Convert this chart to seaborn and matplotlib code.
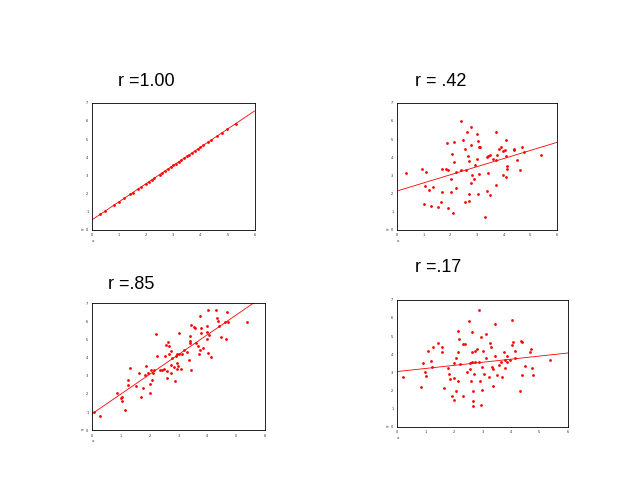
import numpy as np
import pandas as pd
import matplotlib
matplotlib.use("Agg")
import matplotlib.pyplot as plt
import seaborn as sns

# panel 1: r = 1.00
x1 = [0.3, 0.5, 0.8, 1.0, 1.2, 1.4, 1.5, 1.7, 1.8, 2.0, 2.1, 2.2, 2.3, 2.5, 2.6, 2.7, 2.8, 2.9,
      3.0, 3.1, 3.2, 3.3, 3.4, 3.5, 3.6, 3.7, 3.8, 3.9, 4.0, 4.1, 4.3, 4.4, 4.6, 4.8, 5.0, 5.3]
y1 = [0.85, 1.05, 1.35, 1.55, 1.75, 1.95, 2.05, 2.25, 2.35, 2.55, 2.65, 2.75, 2.85, 3.05, 3.15,
      3.25, 3.35, 3.45, 3.55, 3.65, 3.75, 3.85, 3.95, 4.05, 4.15, 4.25, 4.35, 4.45, 4.55, 4.65,
      4.85, 4.95, 5.15, 5.35, 5.55, 5.85]

# panel 2: r = .42
x2 = [.33, .96, 1.1, 1.04, 1.22, 1.35, 1.02, 1.29, 1.53, 1.65, 1.71, 1.68, 1.84, 1.93, 1.87, 2.14,
      2.06, 2.14, 2.02, 2.02, 1.93, 2.09, 2.2, 2.23, 2.39, 2.39, 2.49, 2.57, 2.6, 2.63, 2.67, 2.72,
      2.69, 2.72, 2.55, 2.77, 2.79, 2.82, 2.79, 2.88, 2.94, 3.0, 3.02, 3.04, 3.09, 3.06, 3.04, 3.12,
      3.31, 3.37, 3.43, 3.49, 3.4, 3.39, 3.49, 3.61, 3.73, 3.77, 3.73, 3.82, 3.89, 3.96, 3.73, 3.98,
      4.04, 4.08, 4.1, 4.14, 4.11, 4.08, 4.38, 4.38, 4.51, 4.63, 4.68, 4.75, 5.42]
y2 = [3.11, 3.38, 3.2, 2.43, 2.19, 2.37, 1.41, 1.32, 1.24, 1.55, 2.08, 3.35, 3.35, 3.3, 4.79, 4.84,
      4.2, 3.75, 2.8, 2.1, 1.19, .93, 2.32, 3.2, 3.3, 5.98, 4.94, 4.48, 3.3, 5.39, 4.06, 3.78,
      1.97, 1.59, 1.55, 5.67, 4.66, 3.02, 2.6, 2.83, 3.56, 3.93, 5.26, 4.88, 4.57, 3.07, 1.99, 4.57,
      .73, 4.02, 4.06, 4.11, 3.11, 2.16, 1.92, 3.89, 5.39, 4.15, 3.87, 4.48, 4.57, 4.33, 2.47, 3.02,
      4.38, 4.93, 4.06, 3.53, 3.35, 2.89, 4.48, 4.42, 3.84, 3.29, 4.57, 4.29, 4.11]

# panel 3: r = .85
x3 = [.06, .28, .88, 1.0, 1.06, 1.03, 1.15, 1.25, 1.27, 1.31, 1.52, 1.64, 1.7, 1.79, 1.84, 1.87,
      1.94, 2.0, 2.0, 2.04, 2.07, 2.12, 2.15, 2.21, 2.27, 2.36, 2.42, 2.51, 2.55, 2.58, 2.61, 2.61,
      2.64, 2.69, 2.68, 2.73, 2.73, 2.73, 2.77, 2.85, 2.88, 2.91, 2.94, 2.97, 3.0, 2.97, 3.04, 3.04,
      3.09, 3.12, 3.21, 3.31, 3.36, 3.39, 3.39, 3.42, 3.45, 3.45, 3.54, 3.57, 3.63, 3.69, 3.72, 3.76,
      3.74, 3.78, 3.79, 3.84, 3.98, 4.01, 4.04, 4.04, 4.08, 4.12, 4.01, 4.3, 4.33, 4.36, 4.4, 4.48,
      4.61, 4.65, 4.69, 4.72, 5.37]
y3 = [1.02, .78, 2.04, 1.76, 1.61, 1.81, 1.11, 2.78, 2.5, 3.43, 2.44, 3.15, 1.85, 2.35, 3.06, 3.56,
      3.15, 2.07, 2.56, 3.33, 2.78, 3.15, 3.33, 5.28, 4.07, 3.3, 3.33, 3.37, 4.07, 4.67, 3.24, 2.85,
      4.85, 4.63, 4.2, 4.35, 3.61, 3.15, 3.96, 3.48, 2.69, 4.07, 4.17, 3.7, 3.52, 3.37, 4.2, 5.33,
      3.37, 4.2, 4.39, 4.3, 3.85, 5.19, 4.91, 4.81, 3.33, 5.81, 5.69, 5.65, 4.81, 4.63, 4.17, 4.39,
      6.3, 5.65, 5.37, 4.54, 5.04, 5.74, 6.63, 4.26, 5.26, 4.02, 5.41, 6.61, 6.2, 6.02, 5.74, 5.13,
      5.96, 5.0, 6.48, 5.93, 5.93]

# panel 4: r = .17
x4 = [.23, .85, .92, .99, 1.01, 1.11, 1.2, 1.23, 1.26, 1.45, 1.58, 1.6, 1.64, 1.79, 1.83, 1.87,
      1.93, 1.99, 2.02, 2.02, 2.08, 2.08, 2.13, 2.17, 2.15, 2.15, 2.23, 2.33, 2.33, 2.4, 2.46, 2.54,
      2.56, 2.56, 2.59, 2.65, 2.65, 2.65, 2.68, 2.68, 2.69, 2.72, 2.74, 2.75, 2.81, 2.89, 2.91, 2.88,
      2.94, 2.97, 2.99, 3.0, 3.04, 3.06, 3.12, 3.13, 3.22, 3.28, 3.32, 3.35, 3.37, 3.37, 3.44, 3.45,
      3.53, 3.6, 3.66, 3.7, 3.75, 3.79, 3.79, 3.85, 3.88, 3.98, 4.04, 4.05, 4.06, 4.13, 4.14, 4.33,
      4.36, 4.4, 4.4, 4.51, 4.67, 4.71, 4.74, 4.77, 5.39]
y4 = [2.74, 2.18, 3.5, 3.03, 2.78, 4.16, 3.6, 3.31, 4.39, 4.64, 4.39, 4.11, 2.12, 3.25, 2.93, 2.65,
      1.7, 3.54, 2.69, 1.46, 1.99, 3.78, 5.26, 4.86, 4.11, 2.55, 3.44, 1.7, 4.54, 4.58, 3.03, 5.83,
      3.5, 3.18, 2.5, 5.2, 3.59, 4.12, 1.42, 1.17, 1.99, 2.93, 3.59, 4.16, 4.26, 3.59, 2.55, 6.43,
      4.96, 1.23, 2.04, 3.31, 4.16, 2.93, 5.11, 3.78, 2.72, 4.64, 4.39, 3.31, 3.18, 2.27, 3.88, 5.68,
      2.88, 3.4, 3.59, 2.74, 4.11, 3.69, 3.22, 3.56, 3.88, 3.69, 5.87, 4.48, 4.69, 3.78, 4.16, 1.99,
      4.73, 4.69, 2.84, 3.37, 4.12, 4.26, 3.25, 2.88, 3.69]

titles = ["r =1.00", "r = .42", "r =.85", "r =.17"]

sns.set_style("white")
fig = plt.figure(figsize=(6.38, 4.78), dpi=100)

boxes = [[0.144, 0.519, 0.255, 0.266], [0.622, 0.519, 0.251, 0.266],
         [0.144, 0.100, 0.271, 0.266], [0.622, 0.107, 0.268, 0.266]]
title_pos = [(0.185, 0.82), (0.65, 0.82), (0.17, 0.395), (0.65, 0.43)]
data = [(x1, y1), (x2, y2), (x3, y3), (x4, y4)]

for box, (xs, ys), t, tp in zip(boxes, data, titles, title_pos):
    ax = fig.add_axes(box)
    ax.set_xlim(0, 6)
    ax.set_ylim(0, 7)
    df = pd.DataFrame({"x": xs, "y": ys})
    sns.regplot(data=df, x="x", y="y", ax=ax, ci=None, truncate=False, color="red",
                scatter_kws={"s": 4, "linewidths": 0, "alpha": 1},
                line_kws={"linewidth": 0.6})
    ax.set_xlim(0, 6)
    ax.set_ylim(0, 7)
    ax.set_xticks(range(7))
    ax.set_yticks(range(8))
    ax.tick_params(labelsize=2.5, length=1.5, width=0.5, pad=1)
    ax.set_xlabel("x", fontsize=3, labelpad=1, loc="left")
    ax.set_ylabel("y", fontsize=3, labelpad=1, loc="bottom")
    for s in ax.spines.values():
        s.set_linewidth(0.6)
        s.set_color("black")
    fig.text(tp[0], tp[1], t, fontsize=13, family="Liberation Sans", color="black")

fig.savefig("out.png", dpi=100)
